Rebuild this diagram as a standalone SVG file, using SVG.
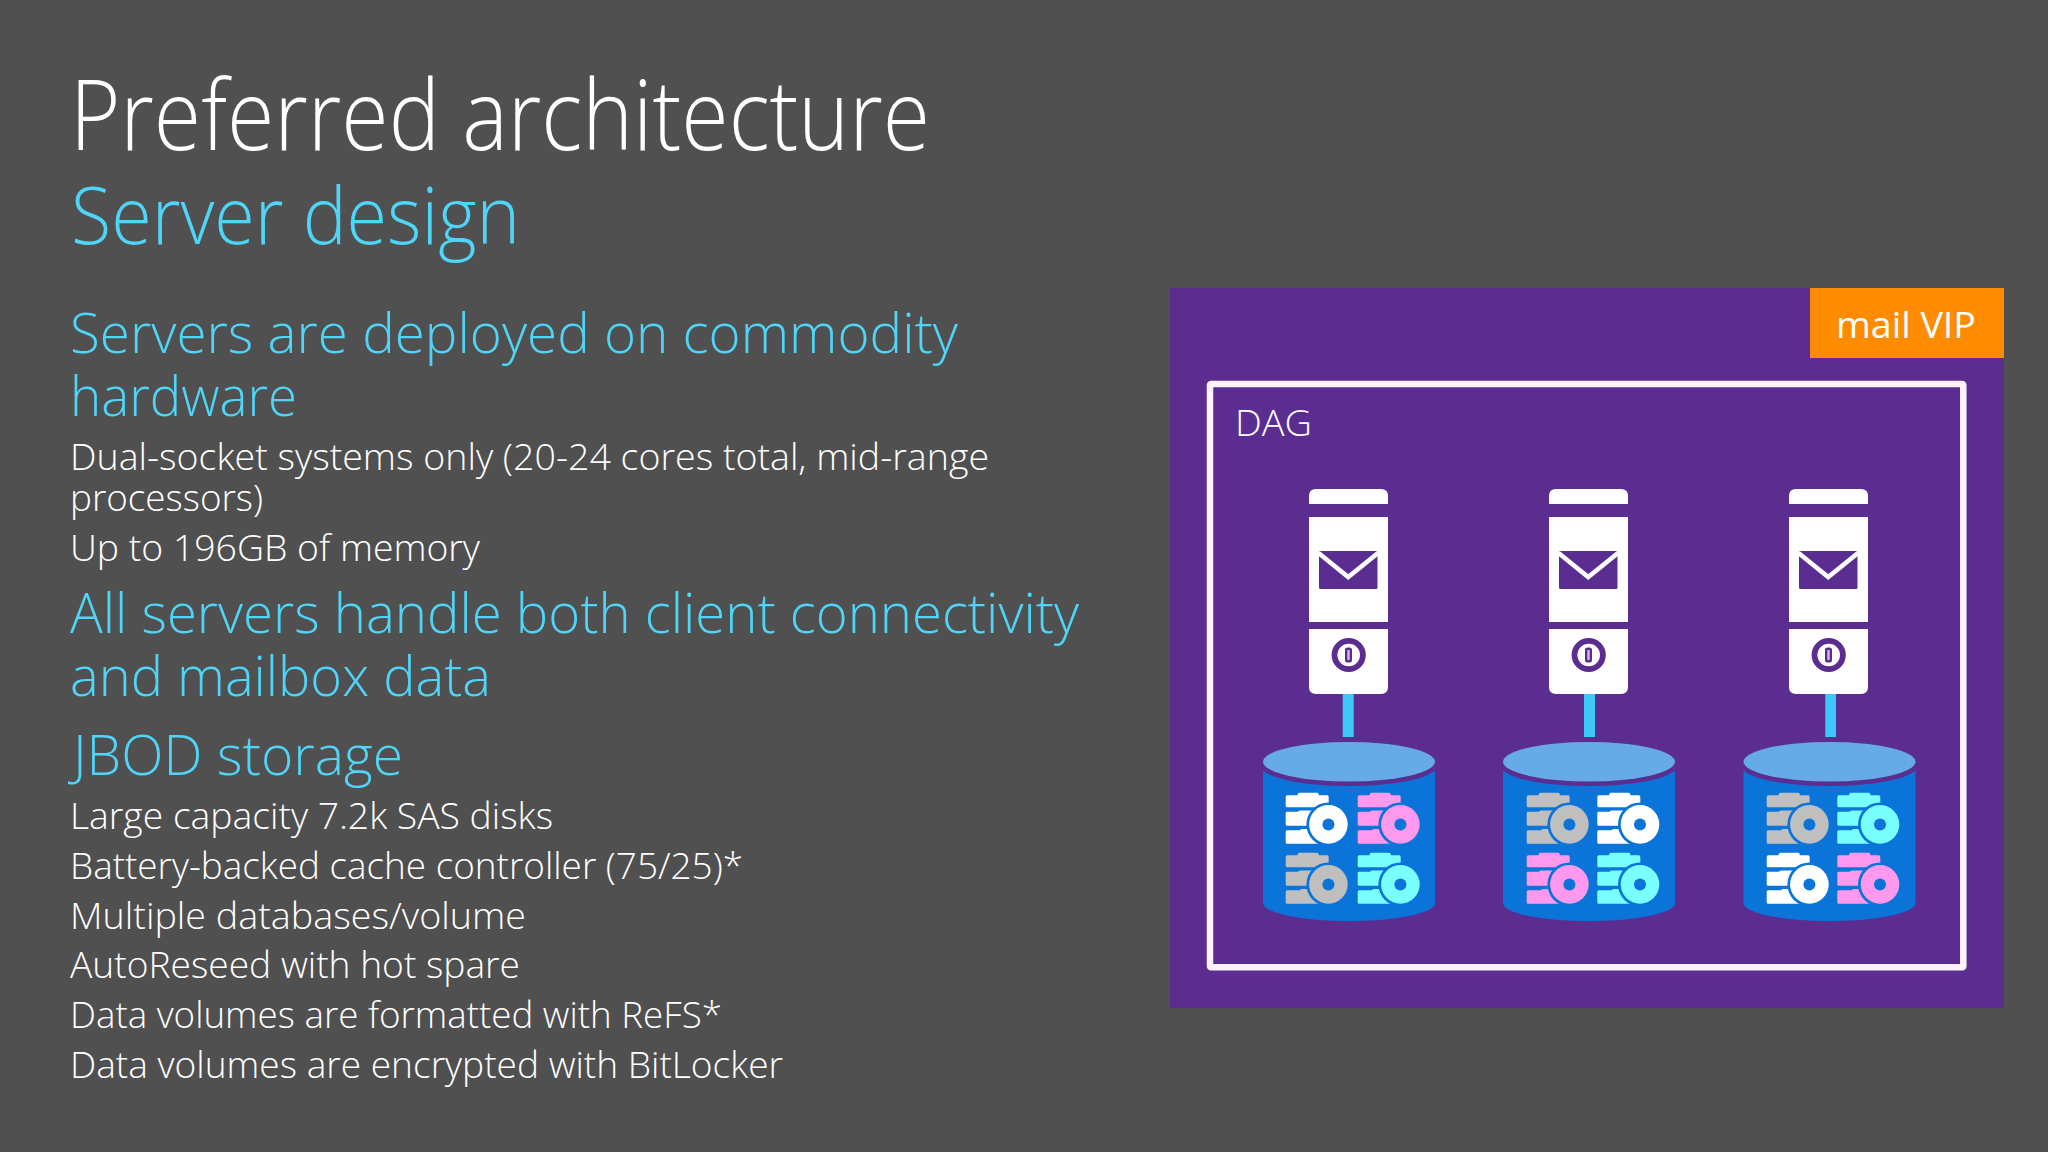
<svg xmlns="http://www.w3.org/2000/svg" xmlns:xlink="http://www.w3.org/1999/xlink" width="2048" height="1152" viewBox="0 0 2048 1152">
<style>
text{font-family:"Open Sans","Noto Sans","Liberation Sans",sans-serif;font-weight:300}
.h1{font-size:97px;fill:#ffffff}
.h2{font-size:79px;fill:#4fd5f7}
.h3{font-size:56px;fill:#4fd5f7}
.b{font-size:37px;fill:#ffffff;font-weight:350}
.dag{font-size:37px;fill:#ffffff}
.vip{font-size:37px;fill:#ffffff;font-weight:500}
.srv{fill:#ffffff}
.ph{fill:#5c2d91}
.ln{fill:#3cc8f8}
.body{fill:#0a74d9}
.top{fill:#66abe8}
</style>
<defs>
<g id="icon">
<path d="M0 4.500Q0 2.500 1.500 2.500H12V1.500Q12 0 13.500 0H31.500Q33 0 33 1.500V2.500H41.500Q43 2.500 43 4.500V14.500H1.500Q0 14.500 0 13Z"/>
<path d="M0 20Q0 19 1.500 19H12L14 17.800H32V33H1.500Q0 33 0 31.500Z"/>
<path d="M0 39Q0 37.500 1.500 37.500H14L16 36.300H36V51H1.500Q0 51 0 49.500Z"/>
<circle cx="42.700" cy="31.700" r="22" fill="#0a74d9"/>
<circle cx="42.700" cy="31.700" r="19.300"/>
<circle cx="42.700" cy="31.700" r="6" fill="#0a74d9"/>
</g>
<g id="server">
<path class="srv" d="M1309 504V496Q1309 489 1316 489H1381Q1388 489 1388 496V504Z"/>
<rect class="srv" x="1309" y="517" width="79" height="105"/>
<path class="srv" d="M1309 629H1388V687Q1388 694 1381 694H1316Q1309 694 1309 687Z"/>
<rect class="ph" x="1319" y="551" width="58.500" height="38" rx="1.500"/>
<path d="M1318.500 553L1348.200 577L1378 553" fill="none" stroke="#ffffff" stroke-width="4.500"/>
<circle cx="1348.700" cy="655" r="14.200" fill="#ffffff" stroke="#5c2d91" stroke-width="5.800"/>
<rect class="ph" x="1345" y="647.500" width="7" height="15" rx="2.500"/>
<rect x="1347.300" y="650" width="2.400" height="10" fill="#cdbcdf"/>
</g>
<g id="cyl">
<path class="body" d="M1263 768H1435V903A86 18 0 0 1 1263 903Z"/>
<ellipse class="ph" cx="1349" cy="766" rx="88" ry="20"/>
<ellipse class="top" cx="1349" cy="761.700" rx="86" ry="19.700"/>
</g>
</defs>
<rect width="2048" height="1152" fill="#505050"/>
<g id="text">
<text class="h1" x="70" y="150" textLength="860" lengthAdjust="spacingAndGlyphs">Preferred architecture</text>
<text class="h2" x="71" y="244" textLength="449" lengthAdjust="spacingAndGlyphs">Server design</text>
<text class="h3"><tspan x="70" y="353" textLength="888" lengthAdjust="spacingAndGlyphs">Servers are deployed on commodity</tspan><tspan x="70" y="416" textLength="227" lengthAdjust="spacingAndGlyphs">hardware</tspan></text>
<text class="b"><tspan x="70" y="470" textLength="919" lengthAdjust="spacingAndGlyphs">Dual-socket systems only (20-24 cores total, mid-range</tspan><tspan x="70" y="511" textLength="193" lengthAdjust="spacingAndGlyphs">processors)</tspan></text>
<text class="b" x="70" y="561" textLength="410" lengthAdjust="spacingAndGlyphs">Up to 196GB of memory</text>
<text class="h3"><tspan x="70" y="633" textLength="1009" lengthAdjust="spacingAndGlyphs">All servers handle both client connectivity</tspan><tspan x="70" y="696" textLength="421" lengthAdjust="spacingAndGlyphs">and mailbox data</tspan></text>
<text class="h3" x="73" y="775" textLength="330" lengthAdjust="spacingAndGlyphs">JBOD storage</text>
<text class="b" x="70" y="829" textLength="483" lengthAdjust="spacingAndGlyphs">Large capacity 7.2k SAS disks</text>
<text class="b" x="70" y="879" textLength="673" lengthAdjust="spacingAndGlyphs">Battery-backed cache controller (75/25)*</text>
<text class="b" x="70" y="929" textLength="456" lengthAdjust="spacingAndGlyphs">Multiple databases/volume</text>
<text class="b" x="70" y="978" textLength="450" lengthAdjust="spacingAndGlyphs">AutoReseed with hot spare</text>
<text class="b" x="70" y="1028" textLength="652" lengthAdjust="spacingAndGlyphs">Data volumes are formatted with ReFS*</text>
<text class="b" x="70" y="1078" textLength="713" lengthAdjust="spacingAndGlyphs">Data volumes are encrypted with BitLocker</text>
</g>
<g id="vip-panel">
<rect x="1170" y="288" width="834" height="720" fill="#5c2d91"/>
<rect x="1810" y="288" width="194" height="70" fill="#ff8c00"/>
<text class="vip" x="1836" y="338" textLength="140" lengthAdjust="spacingAndGlyphs">mail VIP</text>
</g>
<g id="dag">
<rect x="1210" y="384" width="753.300" height="583.200" fill="none" stroke="#fdf2fd" stroke-width="6.500" rx="1"/>
<text class="dag" x="1235" y="436" textLength="77" lengthAdjust="spacingAndGlyphs">DAG</text>
</g>
<g id="connectors">
<rect class="ln" x="1342.700" y="694" width="11" height="43"/>
<rect class="ln" x="1584" y="694" width="11" height="43"/>
<rect class="ln" x="1825.300" y="694" width="10.700" height="43"/>
</g>
<g id="server-1"><use xlink:href="#server"/></g>
<g id="server-2"><use xlink:href="#server" x="240"/></g>
<g id="server-3"><use xlink:href="#server" x="480"/></g>
<g id="disks-1"><use xlink:href="#cyl"/>
<use xlink:href="#icon" x="1285.700" y="792.700" fill="#ffffff"/><use xlink:href="#icon" x="1357.700" y="792.700" fill="#ff99ee"/>
<use xlink:href="#icon" x="1285.700" y="852.700" fill="#bfbfbf"/><use xlink:href="#icon" x="1357.700" y="852.700" fill="#7affff"/></g>
<g id="disks-2"><use xlink:href="#cyl" x="240"/>
<use xlink:href="#icon" x="1526.700" y="792.700" fill="#bfbfbf"/><use xlink:href="#icon" x="1597.300" y="792.700" fill="#ffffff"/>
<use xlink:href="#icon" x="1526.700" y="852.700" fill="#ff99ee"/><use xlink:href="#icon" x="1597.300" y="852.700" fill="#7affff"/></g>
<g id="disks-3"><use xlink:href="#cyl" x="480.500"/>
<use xlink:href="#icon" x="1766.700" y="792.700" fill="#bfbfbf"/><use xlink:href="#icon" x="1837.300" y="792.700" fill="#7affff"/>
<use xlink:href="#icon" x="1766.700" y="852.700" fill="#ffffff"/><use xlink:href="#icon" x="1837.300" y="852.700" fill="#ff99ee"/></g>
</svg>
